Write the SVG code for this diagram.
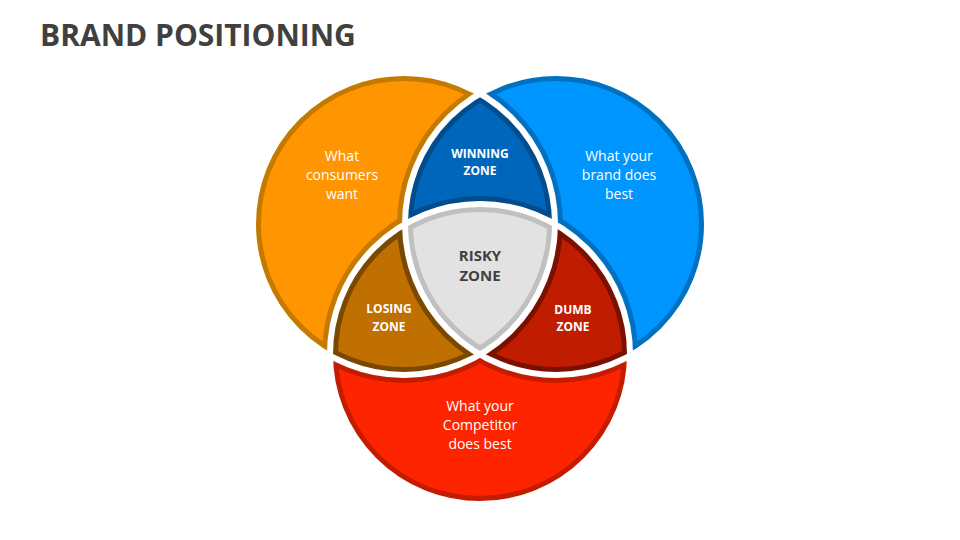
<svg xmlns="http://www.w3.org/2000/svg" width="960" height="540" viewBox="0 0 960 540">
<defs>
<circle id="cA" cx="404" cy="224" r="151"/>
<circle id="cB" cx="556" cy="224" r="151"/>
<circle id="cC" cx="480" cy="354" r="150"/>
<clipPath id="kA"><use href="#cA"/></clipPath>
<clipPath id="kB"><use href="#cB"/></clipPath>
<clipPath id="kC"><use href="#cC"/></clipPath>
<g id="strokes" fill="none" stroke-width="16"><use href="#cA"/><use href="#cB"/><use href="#cC"/></g>
</defs>
<style>
.t{font-family:"Open Sans","Liberation Sans",sans-serif;fill:#fff;text-anchor:middle}
.z{font-weight:bold;font-size:12px}
.w{font-size:14px}
</style>
<rect width="960" height="540" fill="#fff"/>
<text x="40" y="46" font-family="Open Sans, Liberation Sans, sans-serif" font-weight="bold" font-size="30" fill="#404040">BRAND POSITIONING</text>
<g id="orange" clip-path="url(#kA)"><use href="#cA" fill="#FF9500"/><use href="#strokes" stroke="#C47A00"/></g>
<g id="blue" clip-path="url(#kB)"><use href="#cB" fill="#0096FF"/><use href="#strokes" stroke="#0070C0"/></g>
<g id="red" clip-path="url(#kC)"><use href="#cC" fill="#FF2400"/><use href="#strokes" stroke="#C41C00"/></g>
<g id="winning" clip-path="url(#kA)"><g clip-path="url(#kB)"><use href="#cB" fill="#0066BB"/><use href="#strokes" stroke="#004C8C"/></g></g>
<g id="losing" clip-path="url(#kA)"><g clip-path="url(#kC)"><use href="#cC" fill="#C07000"/><use href="#strokes" stroke="#7A4800"/></g></g>
<g id="dumb" clip-path="url(#kB)"><g clip-path="url(#kC)"><use href="#cC" fill="#C01C00"/><use href="#strokes" stroke="#7A1000"/></g></g>
<g id="risky" clip-path="url(#kA)"><g clip-path="url(#kB)"><g clip-path="url(#kC)"><use href="#cC" fill="#E2E2E2"/><use href="#strokes" stroke="#C0C0C0"/></g></g></g>
<g id="gaps" fill="none" stroke="#fff" stroke-width="6"><use href="#cA"/><use href="#cB"/><use href="#cC"/></g>
<g id="labels">
<text class="t w" x="342" y="161">What</text><text class="t w" x="342" y="180">consumers</text><text class="t w" x="342" y="199">want</text>
<text class="t w" x="619" y="161">What your</text><text class="t w" x="619" y="180">brand does</text><text class="t w" x="619" y="199">best</text>
<text class="t w" x="480" y="411">What your</text><text class="t w" x="480" y="430">Competitor</text><text class="t w" x="480" y="449">does best</text>
<text class="t z" x="480" y="158">WINNING</text><text class="t z" x="480" y="175">ZONE</text>
<text class="t z" x="389" y="313">LOSING</text><text class="t z" x="389" y="331">ZONE</text>
<text class="t z" x="573" y="314">DUMB</text><text class="t z" x="573" y="331">ZONE</text>
<text class="t" style="fill:#404040;font-weight:bold;font-size:15px" x="480" y="261">RISKY</text><text class="t" style="fill:#404040;font-weight:bold;font-size:15px" x="480" y="281">ZONE</text>
</g>
</svg>
